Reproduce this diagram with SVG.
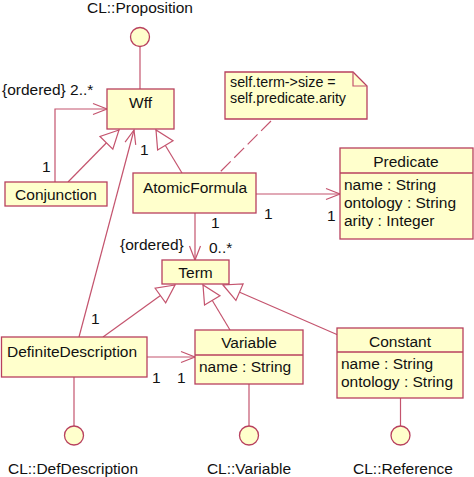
<svg xmlns="http://www.w3.org/2000/svg" width="474" height="477" viewBox="0 0 474 477">
<style>
text{font-family:"Liberation Sans",Arial,sans-serif;font-size:15.5px;fill:#111}
.box{fill:#ffffcc;stroke:#b8405e;stroke-width:1.3}
.ln{fill:none;stroke:#c4546e;stroke-width:1.2}
.c{text-anchor:middle}
.note{font-size:14.3px}
</style>
<defs>
<marker id="gen" viewBox="-20 -11 22 22" markerWidth="22" markerHeight="22" refX="0" refY="0" orient="auto" markerUnits="userSpaceOnUse"><path d="M0,0 L-18,-9 L-18,9 Z" fill="#fff" stroke="#c4546e" stroke-width="1.2"/></marker>
<marker id="open" viewBox="-16 -8 18 16" markerWidth="18" markerHeight="16" refX="0" refY="0" orient="auto" markerUnits="userSpaceOnUse"><path d="M-14,-5.5 L0,0 L-14,5.5" fill="none" stroke="#c4546e" stroke-width="1.2"/></marker>
</defs>
<rect width="474" height="477" fill="#fff"/>
<g id="connectors">
<line class="ln" x1="140" y1="47" x2="140" y2="89"/>
<polyline class="ln" points="55,182 55,109 107,109" marker-end="url(#open)"/>
<line class="ln" x1="68" y1="182" x2="119" y2="130" marker-end="url(#gen)"/>
<line class="ln" x1="182" y1="173" x2="156" y2="130" marker-end="url(#gen)"/>
<line class="ln" x1="79" y1="337" x2="134" y2="130" marker-end="url(#open)"/>
<line class="ln" x1="271" y1="121" x2="219" y2="173" stroke-dasharray="14 5"/>
<line class="ln" x1="256" y1="194" x2="340" y2="194" marker-end="url(#open)"/>
<line class="ln" x1="195" y1="213" x2="195" y2="260" marker-end="url(#open)"/>
<line class="ln" x1="103" y1="337" x2="175" y2="285" marker-end="url(#gen)"/>
<line class="ln" x1="230" y1="330" x2="203" y2="285" marker-end="url(#gen)"/>
<line class="ln" x1="338" y1="335" x2="223" y2="285" marker-end="url(#gen)"/>
<line class="ln" x1="147" y1="357" x2="195" y2="357" marker-end="url(#open)"/>
<line class="ln" x1="74" y1="377" x2="74" y2="426"/>
<line class="ln" x1="249" y1="384" x2="249" y2="426"/>
<line class="ln" x1="400.5" y1="398" x2="400.5" y2="426"/>
<text x="2" y="95">{ordered} 2..*</text>
<text x="42" y="172">1</text>
<text x="140" y="155">1</text>
<text x="91" y="324">1</text>
<text x="211" y="228">1</text>
<text x="209" y="253">0..*</text>
<text x="120" y="250">{ordered}</text>
<text x="264" y="219">1</text>
<text x="327" y="221">1</text>
<text x="152" y="383">1</text>
<text x="177" y="383">1</text>
</g>
<g id="proposition">
<circle class="box" cx="140" cy="37" r="9.5"/>
<text class="c" x="140" y="13">CL::Proposition</text>
</g>
<g id="wff">
<rect class="box" x="107" y="89" width="67" height="40"/>
<text class="c" x="140.5" y="108">Wff</text>
</g>
<g id="note">
<path class="box" d="M225,72 H353 L367,86 V119 H225 Z"/>
<path class="ln" d="M353,72 V86 H367" stroke="#b8405e"/>
<text class="note" x="230" y="87">self.term-&gt;size =</text>
<text class="note" x="230" y="103">self.predicate.arity</text>
</g>
<g id="conjunction">
<rect class="box" x="5" y="182" width="102" height="24"/>
<text class="c" x="56" y="200">Conjunction</text>
</g>
<g id="atomicformula">
<rect class="box" x="133" y="173" width="123" height="40"/>
<text class="c" x="195" y="193">AtomicFormula</text>
</g>
<g id="predicate">
<rect class="box" x="340" y="148" width="133" height="91"/>
<line class="box" x1="340" y1="173" x2="473" y2="173"/>
<text class="c" x="406" y="167">Predicate</text>
<text x="344" y="190">name : String</text>
<text x="344" y="208">ontology : String</text>
<text x="344" y="226">arity : Integer</text>
</g>
<g id="term">
<rect class="box" x="162" y="260" width="67" height="24"/>
<text class="c" x="195.5" y="278">Term</text>
</g>
<g id="definitedescription">
<rect class="box" x="1.5" y="337" width="145.5" height="40"/>
<text x="7" y="357">DefiniteDescription</text>
</g>
<g id="variable">
<rect class="box" x="195" y="330" width="108" height="54"/>
<line class="box" x1="195" y1="355" x2="303" y2="355"/>
<text class="c" x="249" y="348">Variable</text>
<text x="199" y="372">name : String</text>
</g>
<g id="constant">
<rect class="box" x="337" y="328" width="126" height="70"/>
<line class="box" x1="337" y1="352" x2="463" y2="352"/>
<text class="c" x="400" y="347">Constant</text>
<text x="341" y="369">name : String</text>
<text x="341" y="387">ontology : String</text>
</g>
<g id="defdescription-iface">
<circle class="box" cx="74" cy="435.5" r="9.5"/>
<text class="c" x="73" y="474">CL::DefDescription</text>
</g>
<g id="variable-iface">
<circle class="box" cx="249" cy="435.5" r="9.5"/>
<text class="c" x="249" y="474">CL::Variable</text>
</g>
<g id="reference-iface">
<circle class="box" cx="400.5" cy="435.5" r="9.5"/>
<text class="c" x="403" y="474">CL::Reference</text>
</g>
</svg>
